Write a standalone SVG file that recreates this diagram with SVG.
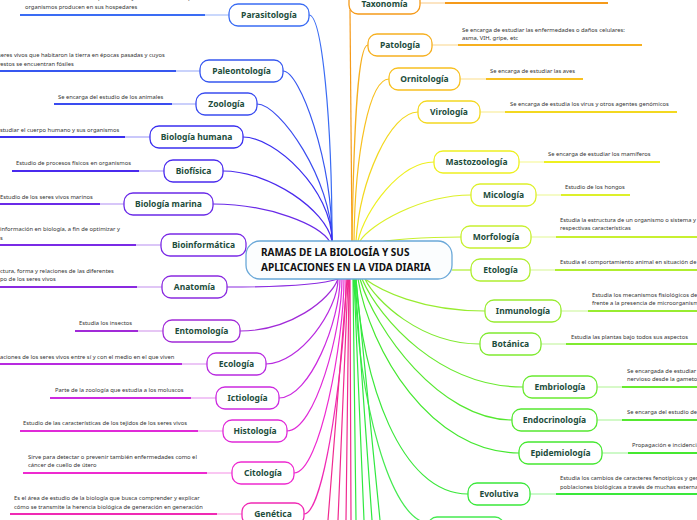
<svg xmlns="http://www.w3.org/2000/svg" width="697" height="520" viewBox="0 0 697 520">
<style>
.n{fill:#fff;stroke-width:1.3}
.t{font-family:"Noto Sans","Open Sans",sans-serif;font-weight:bold;font-size:8.5px;fill:#1d4d3c;text-anchor:middle}
.d{font-family:"Noto Sans","Open Sans",sans-serif;font-size:5.8px;fill:#333}
.c{fill:none;stroke-width:1.2}
.dl{stroke-width:2}
.ll{stroke-width:1.5;opacity:0.35}
</style>
<rect width="697" height="520" fill="#fff"/>
<g id="connectors">
<path class="c" stroke="#3a6cf4" d="M309,15 C322,15 332,120 332,241"/>
<path class="c" stroke="#3657f0" d="M283,71 C300,71 332,160 332,241"/>
<path class="c" stroke="#3a4cf0" d="M257,104 C280,104 332,180 332,241"/>
<path class="c" stroke="#3a2ff0" d="M243,137 C275,137 332,190 332,241"/>
<path class="c" stroke="#4a2aee" d="M223,171 C270,171 326,210 332,241"/>
<path class="c" stroke="#6a2ae8" d="M213,204 C270,204 320,225 330,242"/>
<path class="c" stroke="#8a2ae0" d="M227,287 C270,287 320,285 338,279"/>
<path class="c" stroke="#a12ad8" d="M240,331 C290,331 330,300 338,279"/>
<path class="c" stroke="#b82ae0" d="M266,364 C300,364 338,310 338,279"/>
<path class="c" stroke="#cc2ae0" d="M279,398 C310,398 340,320 340,279"/>
<path class="c" stroke="#e02ad8" d="M287,431 C315,431 342,330 342,279"/>
<path class="c" stroke="#ee2ad0" d="M294,473 C320,473 344,340 344,279"/>
<path class="c" stroke="#f02ab4" d="M304,514 C325,514 346,350 346,279"/>
<path class="c" stroke="#f02a90" d="M347,279 L328,520 M348,279 L338,520 M349,279 L346,520 M350,279 L351,520"/>
<path class="c" stroke="#f59a1a" d="M352,241 L350,10"/>
<path class="c" stroke="#f6b020" d="M368,45 C358,45 354,120 352,241"/>
<path class="c" stroke="#f8c020" d="M389,79 C370,79 355,150 354,241"/>
<path class="c" stroke="#f3d820" d="M418,112 C390,112 360,180 356,241"/>
<path class="c" stroke="#eef020" d="M434,162 C400,162 365,210 358,241"/>
<path class="c" stroke="#ddf02a" d="M471,195 C420,195 370,225 360,241"/>
<path class="c" stroke="#c8f030" d="M461,237 C420,237 390,240 380,242"/>
<path class="c" stroke="#b0ee30" d="M452,270 L471,270"/>
<path class="c" stroke="#98ec30" d="M485,311 C420,311 380,290 365,279"/>
<path class="c" stroke="#80ea30" d="M480,344 C420,344 375,300 365,279"/>
<path class="c" stroke="#6aea30" d="M523,387 C440,387 380,320 362,279"/>
<path class="c" stroke="#55e830" d="M512,420 C440,420 375,330 360,279"/>
<path class="c" stroke="#45e830" d="M519,453 C430,453 370,350 358,279"/>
<path class="c" stroke="#3ae83a" d="M468,494 C400,494 362,380 356,279"/>
<path class="c" stroke="#45ea50" d="M428,523 C390,520 358,400 355,279"/>
<path class="c" stroke="#30e840" d="M353,279 L356,520 M354,279 L364,520 M355,279 L372,520 M356,279 L380,520"/>
</g>
<g id="center">
<rect x="246" y="241" width="206" height="38" rx="14" fill="#fbfdfe" stroke="#6aa8d8" stroke-width="1.3"/>
<text x="261" y="256" font-family="'Noto Sans','Open Sans',sans-serif" font-weight="bold" font-size="10" fill="#111">RAMAS DE LA BIOLOGÍA Y SUS</text>
<text x="261" y="271" font-family="'Noto Sans','Open Sans',sans-serif" font-weight="bold" font-size="10" fill="#111">APLICACIONES EN LA VIDA DIARIA</text>
</g>
<!-- left nodes -->
<g id="parasitologia">
<line class="ll" stroke="#3a6cf4" x1="205" y1="15" x2="229" y2="15"/><line class="dl" stroke="#3a6cf4" x1="20" y1="15" x2="205" y2="15"/>
<text class="d" x="25" y="0">Estudia los fenómenos del parasitismo y las enfermedades que estos</text><text class="d" x="25" y="9">organismos producen en sus hospedares</text>
<rect class="n" stroke="#3a6cf4" x="229" y="4" width="80" height="22" rx="9"/><text class="t" x="269" y="18">Parasitología</text></g>
<g id="paleontologia">
<line class="ll" stroke="#3657f0" x1="176" y1="71" x2="200" y2="71"/><line class="dl" stroke="#3657f0" x1="0" y1="71" x2="176" y2="71"/>
<text class="d" x="-2" y="57">seres vivos que habitaron la tierra en épocas pasadas y cuyos</text><text class="d" x="-2" y="66">restos se encuentran fósiles</text>
<rect class="n" stroke="#3657f0" x="200" y="60" width="83" height="22" rx="9"/><text class="t" x="241.5" y="74">Paleontología</text></g>
<g id="zoologia">
<line class="ll" stroke="#3a4cf0" x1="172" y1="104" x2="196" y2="104"/><line class="dl" stroke="#3a4cf0" x1="54" y1="104" x2="172" y2="104"/>
<text class="d" x="58" y="99">Se encarga del estudio de los animales</text>
<rect class="n" stroke="#3a4cf0" x="196" y="93" width="61" height="22" rx="9"/><text class="t" x="226.5" y="107">Zoología</text></g>
<g id="biologia-humana">
<line class="ll" stroke="#3a2ff0" x1="125" y1="137" x2="150" y2="137"/><line class="dl" stroke="#3a2ff0" x1="0" y1="137" x2="125" y2="137"/>
<text class="d" x="0" y="132">studiar el cuerpo humano y sus organismos</text>
<rect class="n" stroke="#3a2ff0" x="150" y="126" width="93" height="22" rx="9"/><text class="t" x="196.5" y="140">Biología humana</text></g>
<g id="biofisica">
<line class="ll" stroke="#4a2aee" x1="139" y1="171" x2="164" y2="171"/><line class="dl" stroke="#4a2aee" x1="12" y1="171" x2="139" y2="171"/>
<text class="d" x="16" y="165">Estudio de procesos físicos en organismos</text>
<rect class="n" stroke="#4a2aee" x="164" y="160" width="59" height="22" rx="9"/><text class="t" x="193.5" y="174">Biofísica</text></g>
<g id="biologia-marina">
<line class="ll" stroke="#6a2ae8" x1="100" y1="204" x2="124" y2="204"/><line class="dl" stroke="#6a2ae8" x1="0" y1="204" x2="100" y2="204"/>
<text class="d" x="0" y="199">Estudio de los seres vivos marinos</text>
<rect class="n" stroke="#6a2ae8" x="124" y="193" width="89" height="22" rx="9"/><text class="t" x="168.5" y="207">Biología marina</text></g>
<g id="bioinformatica">
<line class="ll" stroke="#7a2ae6" x1="136" y1="245" x2="161" y2="245"/><line class="dl" stroke="#7a2ae6" x1="0" y1="245" x2="136" y2="245"/>
<text class="d" x="0" y="231">información en biología, a fin de optimizar y</text><text class="d" x="0" y="240">s</text>
<rect class="n" stroke="#7a2ae6" x="161" y="234" width="85" height="22" rx="9"/><text class="t" x="203.5" y="248">Bioinformática</text></g>
<g id="anatomia">
<line class="ll" stroke="#8a2ae0" x1="137" y1="287" x2="162" y2="287"/><line class="dl" stroke="#8a2ae0" x1="0" y1="287" x2="137" y2="287"/>
<text class="d" x="0" y="273">ctura, forma y relaciones de las diferentes</text><text class="d" x="0" y="281">po de los seres vivos</text>
<rect class="n" stroke="#8a2ae0" x="162" y="276" width="65" height="22" rx="9"/><text class="t" x="194.5" y="290">Anatomía</text></g>
<g id="entomologia">
<line class="ll" stroke="#a12ad8" x1="138" y1="331" x2="163" y2="331"/><line class="dl" stroke="#a12ad8" x1="75" y1="331" x2="138" y2="331"/>
<text class="d" x="79" y="325">Estudia los insectos</text>
<rect class="n" stroke="#a12ad8" x="163" y="320" width="77" height="22" rx="9"/><text class="t" x="201.5" y="334">Entomología</text></g>
<g id="ecologia">
<line class="ll" stroke="#b82ae0" x1="182" y1="364" x2="207" y2="364"/><line class="dl" stroke="#b82ae0" x1="0" y1="364" x2="182" y2="364"/>
<text class="d" x="0" y="359">aciones de los seres vivos entre sí y con el medio en el que viven</text>
<rect class="n" stroke="#b82ae0" x="207" y="353" width="59" height="22" rx="9"/><text class="t" x="236.5" y="367">Ecología</text></g>
<g id="ictiologia">
<line class="ll" stroke="#cc2ae0" x1="191" y1="398" x2="216" y2="398"/><line class="dl" stroke="#cc2ae0" x1="50" y1="398" x2="191" y2="398"/>
<text class="d" x="55" y="392">Parte de la zoología que estudia a los moluscos</text>
<rect class="n" stroke="#cc2ae0" x="216" y="387" width="63" height="22" rx="9"/><text class="t" x="247.5" y="401">Ictiología</text></g>
<g id="histologia">
<line class="ll" stroke="#e02ad8" x1="198" y1="431" x2="223" y2="431"/><line class="dl" stroke="#e02ad8" x1="20" y1="431" x2="198" y2="431"/>
<text class="d" x="23" y="425">Estudio de las características de los tejidos de los seres vivos</text>
<rect class="n" stroke="#e02ad8" x="223" y="420" width="64" height="22" rx="9"/><text class="t" x="255" y="434">Histología</text></g>
<g id="citologia">
<line class="ll" stroke="#ee2ad0" x1="207" y1="473" x2="232" y2="473"/><line class="dl" stroke="#ee2ad0" x1="23" y1="473" x2="207" y2="473"/>
<text class="d" x="28" y="459">Sirve para detectar o prevenir también enfermedades como el</text><text class="d" x="28" y="467">cáncer de cuello de útero</text>
<rect class="n" stroke="#ee2ad0" x="232" y="462" width="62" height="22" rx="9"/><text class="t" x="263" y="476">Citología</text></g>
<g id="genetica">
<line class="ll" stroke="#f02ab4" x1="217" y1="514" x2="242" y2="514"/><line class="dl" stroke="#f02ab4" x1="10" y1="514" x2="217" y2="514"/>
<text class="d" x="14" y="500">Es el área de estudio de la biología que busca comprender y explicar</text><text class="d" x="14" y="509">cómo se transmite la herencia biológica de generación en generación</text>
<rect class="n" stroke="#f02ab4" x="242" y="503" width="62" height="22" rx="9"/><text class="t" x="273" y="517">Genética</text></g>
<!-- right nodes -->
<g id="taxonomia">
<line class="ll" stroke="#f59a1a" x1="420" y1="3" x2="445" y2="3"/><line class="dl" stroke="#f59a1a" x1="445" y1="3" x2="608" y2="3"/>
<rect class="n" stroke="#f59a1a" x="349" y="-8" width="71" height="22" rx="9"/><text class="t" x="384.5" y="7">Taxonomía</text></g>
<g id="patologia">
<line class="ll" stroke="#f6b020" x1="432" y1="45" x2="458" y2="45"/><line class="dl" stroke="#f6b020" x1="458" y1="45" x2="642" y2="45"/>
<text class="d" x="462" y="32">Se encarga de estudiar las enfermedades o daños celulares:</text><text class="d" x="462" y="40">asma, VIH, gripe, etc</text>
<rect class="n" stroke="#f6b020" x="368" y="34" width="64" height="22" rx="9"/><text class="t" x="400" y="48">Patología</text></g>
<g id="ornitologia">
<line class="ll" stroke="#f8c020" x1="460" y1="79" x2="486" y2="79"/><line class="dl" stroke="#f8c020" x1="486" y1="79" x2="583" y2="79"/>
<text class="d" x="490" y="73">Se encarga de estudiar las aves</text>
<rect class="n" stroke="#f8c020" x="389" y="68" width="71" height="22" rx="9"/><text class="t" x="424.5" y="82">Ornitología</text></g>
<g id="virologia">
<line class="ll" stroke="#f3d820" x1="480" y1="112" x2="505" y2="112"/><line class="dl" stroke="#f3d820" x1="505" y1="112" x2="677" y2="112"/>
<text class="d" x="510" y="106">Se encarga de estudia los virus y otros agentes genómicos</text>
<rect class="n" stroke="#f3d820" x="418" y="101" width="62" height="22" rx="9"/><text class="t" x="449" y="115">Virología</text></g>
<g id="mastozoologia">
<line class="ll" stroke="#eef020" x1="519" y1="162" x2="544" y2="162"/><line class="dl" stroke="#eef020" x1="544" y1="162" x2="660" y2="162"/>
<text class="d" x="548" y="156">Se encarga de estudiar los mamíferos</text>
<rect class="n" stroke="#eef020" x="434" y="151" width="85" height="22" rx="9"/><text class="t" x="476.5" y="165">Mastozoología</text></g>
<g id="micologia">
<line class="ll" stroke="#ddf02a" x1="536" y1="195" x2="561" y2="195"/><line class="dl" stroke="#ddf02a" x1="561" y1="195" x2="630" y2="195"/>
<text class="d" x="565" y="189">Estudio de los hongos</text>
<rect class="n" stroke="#ddf02a" x="471" y="184" width="65" height="22" rx="9"/><text class="t" x="503.5" y="198">Micología</text></g>
<g id="morfologia">
<line class="ll" stroke="#c8f030" x1="531" y1="237" x2="556" y2="237"/><line class="dl" stroke="#c8f030" x1="556" y1="237" x2="697" y2="237"/>
<text class="d" x="560" y="222">Estudia la estructura de un organismo o sistema y sus</text><text class="d" x="560" y="230">respectivas características</text>
<rect class="n" stroke="#c8f030" x="461" y="226" width="70" height="22" rx="9"/><text class="t" x="496" y="240">Morfología</text></g>
<g id="etologia">
<line class="ll" stroke="#b0ee30" x1="530" y1="270" x2="555" y2="270"/><line class="dl" stroke="#b0ee30" x1="555" y1="270" x2="697" y2="270"/>
<text class="d" x="560" y="264">Estudia el comportamiento animal en situación de</text>
<rect class="n" stroke="#b0ee30" x="471" y="259" width="59" height="22" rx="9"/><text class="t" x="500.5" y="273">Etología</text></g>
<g id="inmunologia">
<line class="ll" stroke="#98ec30" x1="561" y1="311" x2="588" y2="311"/><line class="dl" stroke="#98ec30" x1="588" y1="311" x2="697" y2="311"/>
<text class="d" x="592" y="297">Estudia los mecanismos fisiológicos de</text><text class="d" x="592" y="305">frente a la presencia de microorganismos</text>
<rect class="n" stroke="#98ec30" x="485" y="300" width="76" height="22" rx="9"/><text class="t" x="523" y="314">Inmunología</text></g>
<g id="botanica">
<line class="ll" stroke="#80ea30" x1="541" y1="344" x2="566" y2="344"/><line class="dl" stroke="#80ea30" x1="566" y1="344" x2="697" y2="344"/>
<text class="d" x="571" y="339">Estudia las plantas bajo todos sus aspectos</text>
<rect class="n" stroke="#80ea30" x="480" y="333" width="61" height="22" rx="9"/><text class="t" x="510.5" y="347">Botánica</text></g>
<g id="embriologia">
<line class="ll" stroke="#6aea30" x1="597" y1="387" x2="622" y2="387"/><line class="dl" stroke="#6aea30" x1="622" y1="387" x2="697" y2="387"/>
<text class="d" x="627" y="373">Se encargada de estudiar</text><text class="d" x="627" y="381">nervioso desde la gameto</text>
<rect class="n" stroke="#6aea30" x="523" y="376" width="74" height="22" rx="9"/><text class="t" x="560" y="390">Embriología</text></g>
<g id="endocrinologia">
<line class="ll" stroke="#55e830" x1="597" y1="420" x2="622" y2="420"/><line class="dl" stroke="#55e830" x1="622" y1="420" x2="697" y2="420"/>
<text class="d" x="627" y="414">Se encarga del estudio de</text>
<rect class="n" stroke="#55e830" x="512" y="409" width="85" height="22" rx="9"/><text class="t" x="554.5" y="423">Endocrinología</text></g>
<g id="epidemiologia">
<line class="ll" stroke="#45e830" x1="602" y1="453" x2="628" y2="453"/><line class="dl" stroke="#45e830" x1="628" y1="453" x2="697" y2="453"/>
<text class="d" x="632" y="447">Propagación e incidencia</text>
<rect class="n" stroke="#45e830" x="519" y="442" width="83" height="22" rx="9"/><text class="t" x="560.5" y="456">Epidemiología</text></g>
<g id="evolutiva">
<line class="ll" stroke="#3ae83a" x1="530" y1="494" x2="556" y2="494"/><line class="dl" stroke="#3ae83a" x1="556" y1="494" x2="697" y2="494"/>
<text class="d" x="560" y="480">Estudia los cambios de caracteres fenotípicos y genéticos de</text><text class="d" x="560" y="489">poblaciones biológicas a través de muchas externas</text>
<rect class="n" stroke="#3ae83a" x="468" y="483" width="62" height="22" rx="9"/><text class="t" x="499" y="497">Evolutiva</text></g>
<g id="bottom-node">
<rect class="n" stroke="#45ea50" x="428" y="517" width="76" height="22" rx="9"/></g>
</svg>
